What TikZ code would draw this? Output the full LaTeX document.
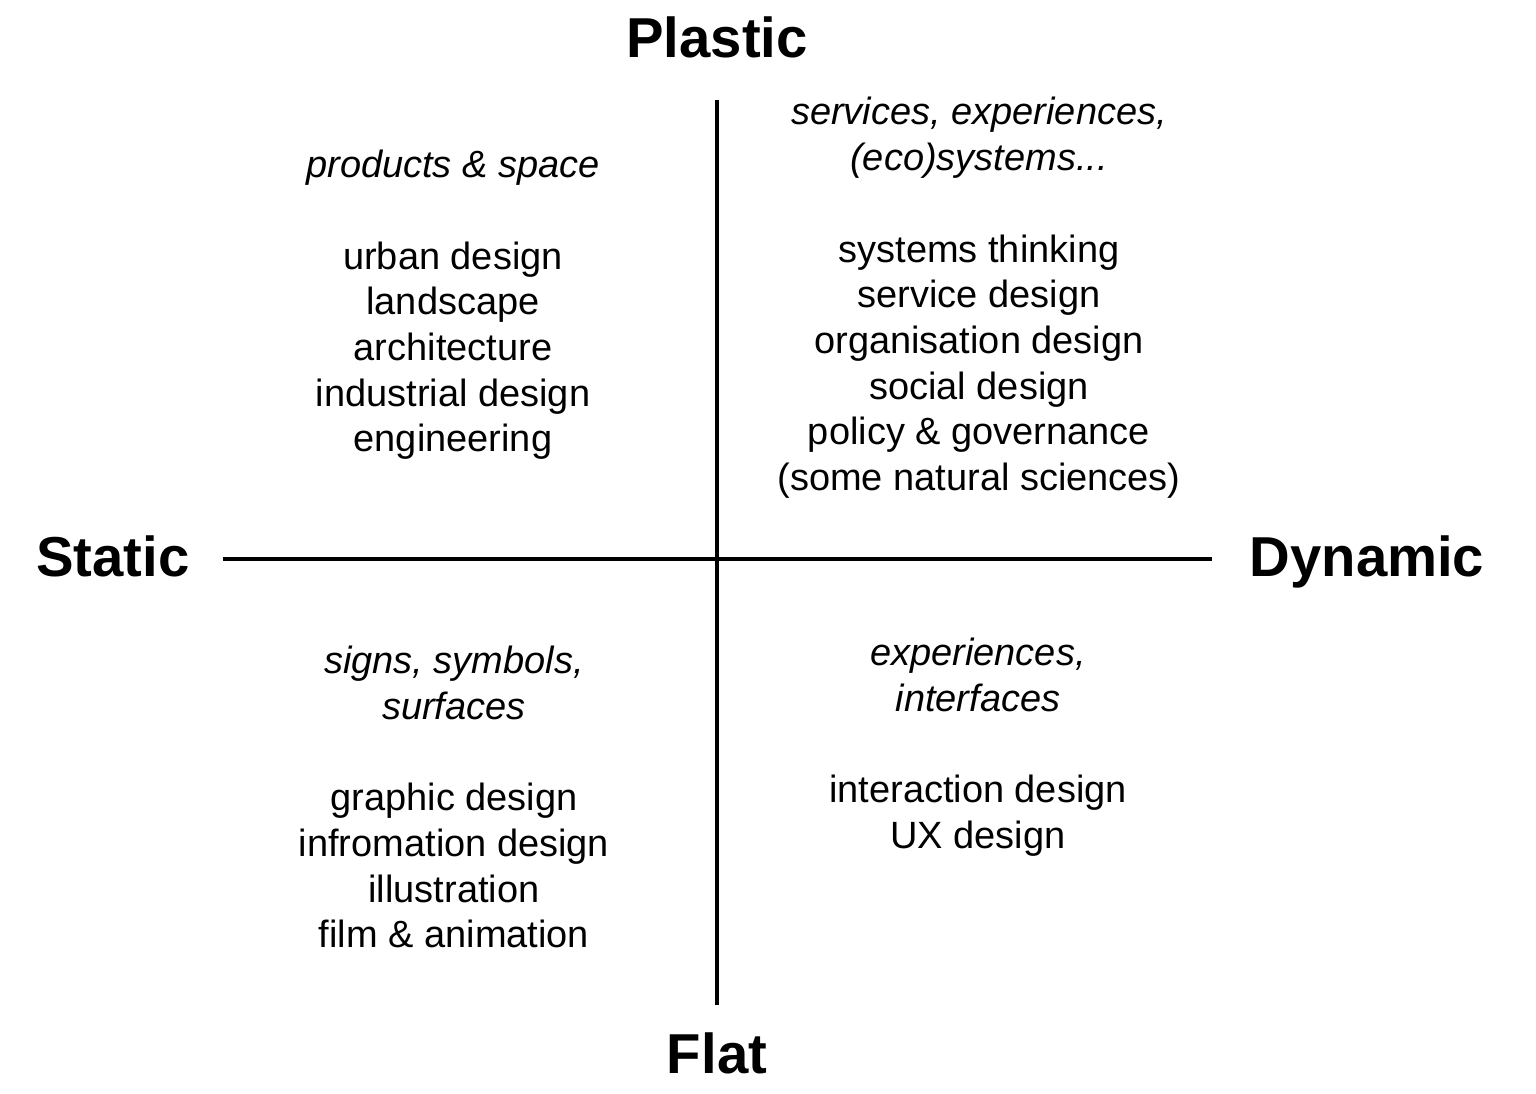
\documentclass[tikz,border=0pt]{standalone}
\usepackage{fontspec}
\setmainfont{Liberation Sans}
\usepackage{tikz}
\usetikzlibrary{calc}

\begin{document}
\begin{tikzpicture}[x=0.01cm, y=-0.01cm,
  axislabel/.style={font=\fontsize{16}{19}\selectfont\bfseries, inner sep=0pt},
  quadtext/.style={font=\fontsize{10.8}{13}\selectfont, align=center, inner sep=0pt}]
% Canvas size (pixel units)
\useasboundingbox (0,0) rectangle (1536,1093);
\pgfmathsetmacro{\cx}{717}
\pgfmathsetmacro{\cy}{559}

% Axis ends
\coordinate (axtop) at (\cx,100);
\coordinate (axbot) at (\cx,1005);
\coordinate (axleft) at (223,\cy);
\coordinate (axright) at (1212,\cy);

% Draw axes
\draw[line width=1.3pt] (axtop) -- (axbot);
\draw[line width=1.3pt] (axleft) -- (axright);

% Axis labels
\node[axislabel] (plastic) at (\cx,37) {Plastic};
\node[axislabel] (flat) at (\cx,1053) {Flat};
\node[axislabel, anchor=base] (static) at (113,576) {Static};
\node[axislabel, anchor=base] (dynamic) at (1367,576) {Dynamic};

% Quadrants
\node[quadtext] (topleft) at (453,305) {\itshape products \& space\\[13pt]
  urban design\\ landscape\\ architecture\\ industrial design\\ engineering};
\node[quadtext] (topright) at (979,298) {\itshape services, experiences,\\ \itshape (eco)systems...\\[13pt]
  systems thinking\\ service design\\ organisation design\\ social design\\ policy \& governance\\ (some natural sciences)};
\node[quadtext] (botleft) at (454,797) {\itshape signs, symbols,\\ \itshape surfaces\\[13pt]
  graphic design\\ infromation design\\ illustration\\ film \& animation};
\node[quadtext] (botright) at (978,747) {\itshape experiences,\\ \itshape interfaces\\[13pt]
  interaction design\\ UX design};

\end{tikzpicture}
\end{document}
